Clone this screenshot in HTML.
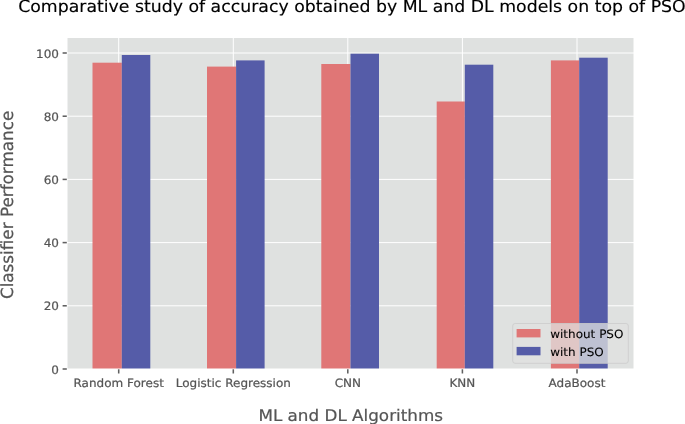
<!DOCTYPE html>
<html lang="en"><head><meta charset="utf-8"><title>Comparative study of accuracy</title>
<style>html,body{margin:0;padding:0;background:#fff;overflow:hidden}svg{display:block;filter:blur(0.4px)}text{font-family:"DejaVu Sans","Liberation Sans",sans-serif;text-rendering:geometricPrecision}</style></head><body>
<svg width="685" height="424" viewBox="0 0 685 424">
<rect width="685" height="424" fill="#fff"/>
<rect x="67.0" y="37.5" width="567.0" height="331.5" fill="#DFE1E0"/>
<line x1="67.0" x2="634.0" y1="305.8" y2="305.8" stroke="#fff" stroke-width="1"/>
<line x1="67.0" x2="634.0" y1="242.6" y2="242.6" stroke="#fff" stroke-width="1"/>
<line x1="67.0" x2="634.0" y1="179.4" y2="179.4" stroke="#fff" stroke-width="1"/>
<line x1="67.0" x2="634.0" y1="116.2" y2="116.2" stroke="#fff" stroke-width="1"/>
<line x1="67.0" x2="634.0" y1="53.0" y2="53.0" stroke="#fff" stroke-width="1"/>
<line x1="118.7" x2="118.7" y1="37.5" y2="369.0" stroke="#fff" stroke-width="1"/>
<line x1="233.3" x2="233.3" y1="37.5" y2="369.0" stroke="#fff" stroke-width="1"/>
<line x1="347.8" x2="347.8" y1="37.5" y2="369.0" stroke="#fff" stroke-width="1"/>
<line x1="462.4" x2="462.4" y1="37.5" y2="369.0" stroke="#fff" stroke-width="1"/>
<line x1="577.0" x2="577.0" y1="37.5" y2="369.0" stroke="#fff" stroke-width="1"/>
<rect x="92.5" y="62.7" width="29.3" height="306.3" fill="#E07676"/>
<rect x="121.8" y="55.0" width="28.5" height="314.0" fill="#555CA8"/>
<rect x="207.0" y="66.6" width="29.1" height="302.4" fill="#E07676"/>
<rect x="236.1" y="60.4" width="28.5" height="308.6" fill="#555CA8"/>
<rect x="321.3" y="64.0" width="29.2" height="305.0" fill="#E07676"/>
<rect x="350.5" y="53.7" width="28.5" height="315.3" fill="#555CA8"/>
<rect x="436.7" y="101.5" width="28.1" height="267.5" fill="#E07676"/>
<rect x="464.8" y="64.7" width="28.5" height="304.3" fill="#555CA8"/>
<rect x="550.9" y="60.4" width="28.3" height="308.6" fill="#E07676"/>
<rect x="579.2" y="57.7" width="28.5" height="311.3" fill="#555CA8"/>
<rect x="67.0" y="37.5" width="567.0" height="331.5" fill="none" stroke="#fff" stroke-width="1"/>
<line x1="118.7" x2="118.7" y1="369.3" y2="373.5" stroke="#606060" stroke-width="1.55"/>
<line x1="233.3" x2="233.3" y1="369.3" y2="373.5" stroke="#606060" stroke-width="1.55"/>
<line x1="347.8" x2="347.8" y1="369.3" y2="373.5" stroke="#606060" stroke-width="1.55"/>
<line x1="462.4" x2="462.4" y1="369.3" y2="373.5" stroke="#606060" stroke-width="1.55"/>
<line x1="577.0" x2="577.0" y1="369.3" y2="373.5" stroke="#606060" stroke-width="1.55"/>
<line x1="62.6" x2="66.8" y1="369.0" y2="369.0" stroke="#606060" stroke-width="1.55"/>
<text transform="translate(59.00,373.60) scale(1,0.96)" font-size="12" fill="#555" stroke="#555" stroke-width="0.22" text-anchor="end">0</text>
<line x1="62.6" x2="66.8" y1="305.8" y2="305.8" stroke="#606060" stroke-width="1.55"/>
<text transform="translate(59.00,310.40) scale(1,0.96)" font-size="12" fill="#555" stroke="#555" stroke-width="0.22" text-anchor="end">20</text>
<line x1="62.6" x2="66.8" y1="242.6" y2="242.6" stroke="#606060" stroke-width="1.55"/>
<text transform="translate(59.00,247.20) scale(1,0.96)" font-size="12" fill="#555" stroke="#555" stroke-width="0.22" text-anchor="end">40</text>
<line x1="62.6" x2="66.8" y1="179.4" y2="179.4" stroke="#606060" stroke-width="1.55"/>
<text transform="translate(59.00,184.00) scale(1,0.96)" font-size="12" fill="#555" stroke="#555" stroke-width="0.22" text-anchor="end">60</text>
<line x1="62.6" x2="66.8" y1="116.2" y2="116.2" stroke="#606060" stroke-width="1.55"/>
<text transform="translate(59.00,120.80) scale(1,0.96)" font-size="12" fill="#555" stroke="#555" stroke-width="0.22" text-anchor="end">80</text>
<line x1="62.6" x2="66.8" y1="53.0" y2="53.0" stroke="#606060" stroke-width="1.55"/>
<text transform="translate(59.00,57.60) scale(1,0.96)" font-size="12" fill="#555" stroke="#555" stroke-width="0.22" text-anchor="end">100</text>
<text transform="translate(118.70,387.40) scale(1,0.96)" font-size="12" fill="#555" stroke="#555" stroke-width="0.22" text-anchor="middle">Random Forest</text>
<text transform="translate(233.30,387.40) scale(1,0.96)" font-size="12" fill="#555" stroke="#555" stroke-width="0.22" text-anchor="middle">Logistic Regression</text>
<text transform="translate(347.80,387.40) scale(1,0.96)" font-size="12" fill="#555" stroke="#555" stroke-width="0.22" text-anchor="middle">CNN</text>
<text transform="translate(462.40,387.40) scale(1,0.96)" font-size="12" fill="#555" stroke="#555" stroke-width="0.22" text-anchor="middle">KNN</text>
<text transform="translate(577.00,387.40) scale(1,0.96)" font-size="12" fill="#555" stroke="#555" stroke-width="0.22" text-anchor="middle">AdaBoost</text>
<text transform="translate(350.70,421.00) scale(1,0.96)" font-size="16.8" fill="#555" stroke="#555" stroke-width="0.22" text-anchor="middle">ML and DL Algorithms</text>
<text transform="translate(13.20,204.90) rotate(-90)" font-size="16.8" fill="#555" stroke="#555" stroke-width="0.22" text-anchor="middle">Classifier Performance</text>
<text transform="translate(18.20,11.70) scale(1,0.96)" font-size="17.313" fill="#000" stroke="#000" stroke-width="0.15" text-anchor="start">Comparative study of accuracy obtained by ML and DL models on top of PSO</text>
<rect x="512.7" y="323.5" width="115.6" height="39.8" rx="2.4" fill="#DFE1E0" fill-opacity="0.76" stroke="#ccc" stroke-opacity="0.8" stroke-width="1"/>
<rect x="516.6" y="329.0" width="23.9" height="8.4" fill="#E07676"/>
<rect x="516.6" y="346.9" width="23.9" height="8.4" fill="#555CA8"/>
<text transform="translate(550.20,338.00) scale(1,0.96)" font-size="12" fill="#000" stroke="#000" stroke-width="0.1" text-anchor="start">without PSO</text>
<text transform="translate(550.20,356.20) scale(1,0.96)" font-size="12" fill="#000" stroke="#000" stroke-width="0.1" text-anchor="start">with PSO</text>
</svg></body></html>
